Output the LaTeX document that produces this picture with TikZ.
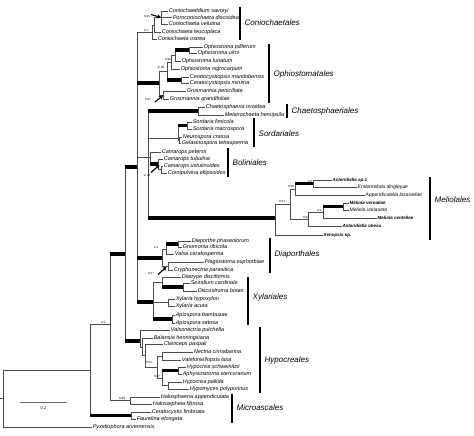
\documentclass[tikz,border=0pt]{standalone}
\usepackage{fontspec}
\setmainfont{Liberation Sans}
\usetikzlibrary{arrows.meta,calc}
\begin{document}
\begin{tikzpicture}[x=1pt,y=-1pt,
  leaf/.style={anchor=west, inner sep=0.6pt, font=\fontsize{5.5}{6}\selectfont\itshape},
  mleaf/.style={anchor=west, inner sep=0.5pt, font=\fontsize{5}{5.5}\selectfont\itshape},
  mbold/.style={anchor=west, inner sep=0.5pt, font=\fontsize{4.5}{5}\selectfont\bfseries\itshape},
  order/.style={anchor=west, inner sep=0pt, font=\fontsize{8}{9}\selectfont\itshape},
  br/.style={draw=black!70, line width=0.45pt},
  thk/.style={draw=black, line width=3.6pt},
  obar/.style={draw=black, line width=2pt},
  sup/.style={font=\fontsize{3}{3}\selectfont, inner sep=0.2pt},
  arr/.style={draw=black, -{Stealth[length=4pt,width=4.6pt]}, line width=1.1pt}]
\useasboundingbox (0,0) rectangle (474,436);

% ---------- leaves ----------
% Coniochaetales
\node[leaf] (l1) at (168,11) {Coniochaetidium savoryi};
\node[leaf] (l2) at (172,17.5) {Poroconiochaeta discoidea};
\node[leaf] (l3) at (168,24) {Coniochaeta velutina};
\node[leaf] (l4) at (161,32) {Coniochaeta leucoplaca};
\node[leaf] (l5) at (157,39) {Coniochaeta ostrea};
% Ophiostomatales
\node[leaf] (l6) at (203,47) {Ophiostoma piliferum};
\node[leaf] (l7) at (197,53) {Ophiostoma ulmi};
\node[leaf] (l8) at (181,61) {Ophiostoma lunatum};
\node[leaf] (l9) at (180,69) {Ophiostoma nigrocarpum};
\node[leaf] (l10) at (189,77) {Ceratocystiopsis manitobensis};
\node[leaf] (l11) at (189,83) {Ceratocystiopsis minima};
\node[leaf] (l12) at (186,91) {Grosmannia penicillata};
\node[leaf] (l13) at (169,99) {Grosmannia grandifoliae};
% Chaetosphaeriales
\node[leaf] (l14) at (205,107) {Chaetosphaeria ovoidea};
\node[leaf] (l15) at (224,115) {Melanochaeta hemipsila};
% Sordariales
\node[leaf] (l16) at (192,122) {Sordaria fimicola};
\node[leaf] (l17) at (192,129) {Sordaria macrospora};
\node[leaf] (l18) at (182,137) {Neurospora crassa};
\node[leaf] (l19) at (181,143) {Gelasinospora tetrasperma};
% Boliniales
\node[leaf] (l20) at (161,152) {Camarops petersii};
\node[leaf] (l21) at (163,159) {Camarops tubulina};
\node[leaf] (l22) at (163,166) {Camarops ustulinoides};
\node[leaf] (l23) at (167,173) {Cornipulvina ellipsoides};
% Meliolales
\node[mbold] (m1) at (332,180) {Asteridiella sp.1};
\node[mleaf] (m2) at (357,187) {Endomeliola dingleyae};
\node[mleaf] (m3) at (365,195) {Appendiculella lozanellae};
\node[mbold] (m4) at (349,203) {Meliola vernaliae};
\node[mleaf] (m5) at (349,210) {Meliola variaseta};
\node[mbold] (m6) at (377,218) {Meliola centellae};
\node[mbold] (m7) at (342,226) {Asteridiella obesa};
\node[mbold] (m8) at (323,235) {Irenopsis sp.};
% Diaporthales
\node[leaf] (d1) at (191,241) {Diaporthe phaseolorum};
\node[leaf] (d2) at (182,247) {Gnomonia ribicola};
\node[leaf] (d3) at (174,254) {Valsa ceratosperma};
\node[leaf] (d4) at (204,262) {Plagiostoma euphorbiae};
\node[leaf] (d5) at (173,270) {Cryphonectria parasitica};
% Xylariales
\node[leaf] (x1) at (181,277) {Diatrype disciformis};
\node[leaf] (x2) at (190,283) {Seiridium cardinale};
\node[leaf] (x3) at (197,291) {Discostroma botan};
\node[leaf] (x4) at (175,299) {Xylaria hypoxylon};
\node[leaf] (x5) at (175,306) {Xylaria acuta};
\node[leaf] (x6) at (175,315) {Apiospora bambusae};
\node[leaf] (x7) at (175,323) {Apiospora setosa};
% Hypocreales
\node[leaf] (h1) at (170,330) {Valsonectria pulchella};
\node[leaf] (h2) at (153,338) {Balansia henningsiana};
\node[leaf] (h3) at (163,344) {Claviceps paspali};
\node[leaf] (h4) at (193,352) {Nectria cinnabarina};
\node[leaf] (h5) at (181,360) {Valetoniellopsis laxa};
\node[leaf] (h6) at (186,367) {Hypocrea schweinitzii};
\node[leaf] (h7) at (182,374) {Aphysiostroma stercorarium};
\node[leaf] (h8) at (182,382) {Hypocrea pallida};
\node[leaf] (h9) at (189,389) {Hypomyces polyporinus};
% Microascales
\node[leaf] (a1) at (160,397) {Halosphaeria appendiculata};
\node[leaf] (a2) at (152,404) {Halosarpheia fibrosa};
\node[leaf] (a3) at (151,412) {Ceratocystis fimbriata};
\node[leaf] (a4) at (136,419) {Faurelina elongata};
% outgroup
\node[leaf] (pyx) at (92,427) {Pyxidiophora arvernensis};

% ---------- internal nodes ----------
\coordinate (c1) at (161,17.5);
\coordinate (c2) at (154,25);
\coordinate (c3) at (152,32);
\coordinate (o1) at (189,50);
\coordinate (o2) at (175,55.5);
\coordinate (o3) at (171,62.25);
\coordinate (o4) at (181,80);
\coordinate (o5) at (167,71);
\coordinate (o6) at (163,95);
\coordinate (o7) at (159,83);
\coordinate (ch1) at (198,111);
\coordinate (s1) at (187,125.5);
\coordinate (s2) at (179,140);
\coordinate (s3) at (178,138);
\coordinate (b1) at (161,169.5);
\coordinate (b2) at (158,164);
\coordinate (b3) at (150,157);
\coordinate (Na) at (313,183.5);
\coordinate (Nb) at (295,189);
\coordinate (Nc) at (343,206.5);
\coordinate (Nd) at (323,212);
\coordinate (Ne) at (308,219);
\coordinate (Nf) at (290,204);
\coordinate (M0) at (275,218);
\coordinate (da) at (178,244);
\coordinate (db) at (166,249);
\coordinate (dc) at (168,266);
\coordinate (dd) at (162,258);
\coordinate (xa) at (183,287);
\coordinate (xb) at (162,282);
\coordinate (xc) at (168,302.5);
\coordinate (xd) at (172,319);
\coordinate (xe) at (153,302);
\coordinate (Hn) at (162,356);
\coordinate (Hh) at (178,370.5);
\coordinate (Hp) at (168,385.5);
\coordinate (Hq) at (162,378);
\coordinate (Hr) at (157,367);
\coordinate (Hs) at (145,355.5);
\coordinate (Ht) at (142,346.75);
\coordinate (H0) at (140,341);
\coordinate (Ha) at (130,400.5);
\coordinate (Hc) at (131,415.5);
\coordinate (nd) at (148,157);
\coordinate (bb) at (137,167);
\coordinate (n125) at (125,254);
\coordinate (n110) at (110,324);
\coordinate (n90) at (90,370);
\coordinate (root) at (3,398.5);
\coordinate (r0) at (0,398.5);

% ---------- branches ----------
\foreach \p/\cs in {c1/{l1,l2,l3}, c2/{c1,l4}, c3/{c2,l5},
  o1/{l6,l7}, o2/{o1,l8}, o3/{o2,l9}, o4/{l10,l11}, o5/{o3,o4}, o6/{l12,l13}, o7/{o5,o6},
  ch1/{l14,l15}, s1/{l16,l17}, s2/{l18,l19}, s3/{s1,s2},
  b1/{l22,l23}, b2/{l21,b1}, b3/{l20,b2},
  Na/{m1,m2}, Nb/{Na,m3}, Nc/{m4,m5}, Nd/{Nc,m6}, Ne/{Nd,m7}, Nf/{Nb,Ne}, M0/{Nf,m8},
  da/{d1,d2}, db/{da,d3}, dc/{d4,d5}, dd/{db,dc},
  xa/{x2,x3}, xb/{x1,xa}, xc/{x4,x5}, xd/{x6,x7}, xe/{xb,xc,xd},
  Hn/{h4,h5}, Hh/{h6,h7}, Hp/{h8,h9}, Hq/{Hh,Hp}, Hr/{Hn,Hq}, Hs/{h3,Hr}, Ht/{h2,Hs}, H0/{h1,Ht},
  Ha/{a1,a2}, Hc/{a3,a4},
  nd/{ch1,s3,b3,M0}, bb/{c3,o7,nd,dd,xe},
  n125/{bb,H0}, n110/{n125,Ha}, n90/{n110,Hc}, root/{n90,pyx}}
  {\foreach \c in \cs {\draw[br] (\p) |- (\c);}}
\draw[br] (r0) -- (root);

% thick (strongly supported) branches
\foreach \p/\c in {o1/o2, o4/o5, o7/bb, ch1/nd, M0/nd, s1/s3, b2/b3, Na/Nb, Nc/Nd, da/db,
  dd/bb, xa/xb, xe/bb, xd/xe, Hh/Hq, bb/n125, H0/n125, n125/n110, Hc/n90}
  {\draw[thk] (\c |- \p) -- (\p);}

% ---------- support values ----------
\node[sup] at (147,16.5) {0.91};
\node[sup] at (146,30) {1/1};
\node[sup] at (168,59) {0.92};
\node[sup] at (161,67) {1/.96};
\node[sup] at (148,99) {0.97};
\node[sup] at (147,175) {1/.99};
\node[sup] at (282,201) {0.51};
\node[sup] at (291,186) {0.95};
\node[sup] at (310,181) {1/1};
\node[sup] at (319,210) {1/1};
\node[sup] at (306,217) {0.94};
\node[sup] at (156,247) {1/1};
\node[sup] at (151,273) {0.57};
\node[sup] at (103,322) {1/1};
\node[sup] at (149,362) {0.52};
\node[sup] at (157,376) {0.87};
\node[sup] at (122,398) {0.98};

% ---------- arrows ----------
\coordinate (ar1s) at (151,14.5);
\draw[arr] (ar1s) -- (c1);
\coordinate (ar2s) at (155,102);
\coordinate (ar2e) at (163,95.5);
\draw[arr] (ar2s) -- (ar2e);
\coordinate (ar3s) at (151,172.5);
\coordinate (ar3e) at (159.5,165);
\draw[arr] (ar3s) -- (ar3e);
\coordinate (ar4s) at (158,274.5);
\coordinate (ar4e) at (166.5,267);
\draw[arr] (ar4s) -- (ar4e);

% ---------- order bars ----------
\foreach \n/\x/\ya/\yb/\yl/\t in {Con/240/7/40/23/Coniochaetales, Oph/269/44/103/74/Ophiostomatales,
  Cha/287/104/118/111/Chaetosphaeriales, Sor/254/118/147/134/Sordariales, Bol/228/148/177/163/Boliniales,
  Mel/430/177/240/200/Meliolales, Dia/270/238/273/254/Diaporthales, Xyl/248/277/325/297/Xylariales,
  Hyp/260/327/393/360/Hypocreales, Mic/232/394/423/408/Microascales}
{
  \coordinate (\n a) at (\x,\ya);
  \coordinate (\n b) at (\x,\yb);
  \draw[obar] (\n a) -- (\n b);
  \node[order] (\n lab) at ($(\x,\yl)+(4.5,0)$) {\t};
}

% ---------- scale bar ----------
\coordinate (sc1) at (20,402);
\coordinate (sc2) at (67,402);
\draw[draw=black!60, line width=0.4pt] (sc1) -- (sc2);
\node[font=\fontsize{4}{4}\selectfont, inner sep=0pt] (sclab) at (43.5,408.5) {0.2};
\end{tikzpicture}
\end{document}
